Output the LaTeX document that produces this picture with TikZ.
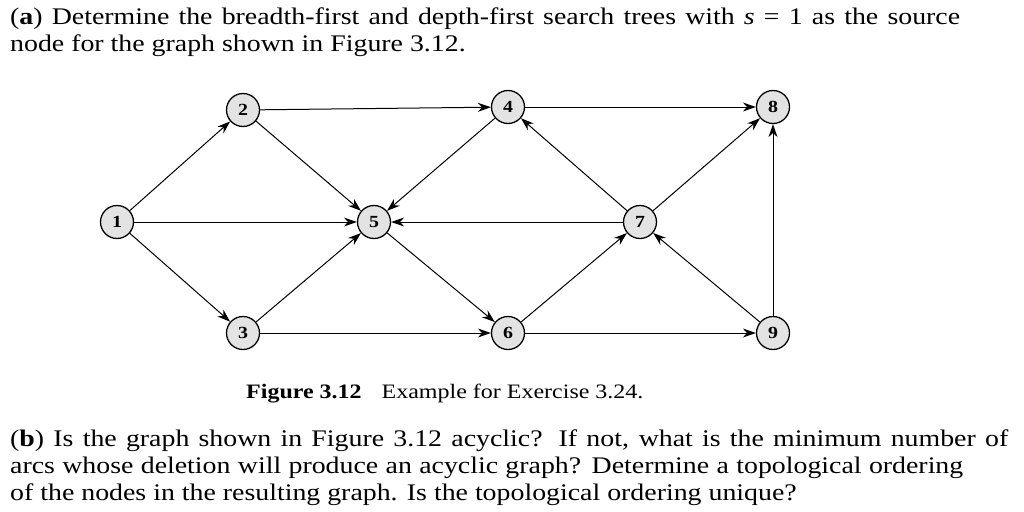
\documentclass[tikz,border=0pt]{standalone}
\usepackage{fontspec}
\setmainfont[FakeStretch=1.17]{Liberation Serif}
\usetikzlibrary{arrows.meta}
\begin{document}
\begin{tikzpicture}[x=1pt,y=-1pt,
  vtx/.style={circle,draw,line width=1.3pt,fill=gray!22,minimum size=33pt,inner sep=0pt,font=\fontsize{17}{17}\selectfont\bfseries},
  arc/.style={line width=1pt,-{Stealth[length=13pt,width=9pt]}},
  txt/.style={anchor=base west,inner sep=0pt,font=\fontsize{23.8}{27}\selectfont}]
\useasboundingbox (0,0) rectangle (1024,511);
\node[txt] (t1) at (10,25) {\hbox to 950pt{(\textbf{a}) Determine the breadth-first and depth-first search trees with \textit{s} = 1 as the source}};
\node[txt] (t2) at (10,52) {node for the graph shown in Figure 3.12.};
\node[vtx] (n1) at (117,222) {1};
\node[vtx] (n2) at (243,110) {2};
\node[vtx] (n3) at (243,333) {3};
\node[vtx] (n4) at (508,107) {4};
\node[vtx] (n5) at (374,222) {5};
\node[vtx] (n6) at (508,333) {6};
\node[vtx] (n7) at (640,222) {7};
\node[vtx] (n8) at (773,107) {8};
\node[vtx] (n9) at (773,333) {9};
\draw[arc] (n1)--(n2); \draw[arc] (n1)--(n5); \draw[arc] (n1)--(n3);
\draw[arc] (n2)--(n4); \draw[arc] (n2)--(n5);
\draw[arc] (n3)--(n5); \draw[arc] (n3)--(n6);
\draw[arc] (n4)--(n8); \draw[arc] (n4)--(n5);
\draw[arc] (n5)--(n6); \draw[arc] (n6)--(n7); \draw[arc] (n6)--(n9);
\draw[arc] (n7)--(n4); \draw[arc] (n7)--(n5); \draw[arc] (n7)--(n8);
\draw[arc] (n9)--(n7); \draw[arc] (n9)--(n8);
\node[txt,font=\fontsize{20.5}{22}\selectfont] (cap) at (246,398) {\textbf{Figure 3.12}\hspace{20pt}Example for Exercise 3.24.};
\node[txt] (b1) at (10,446) {\hbox to 998pt{(\textbf{b}) Is the graph shown in Figure 3.12 acyclic? If not, what is the minimum number of}};
\node[txt] (b2) at (10,473) {\hbox to 953pt{arcs whose deletion will produce an acyclic graph? Determine a topological ordering}};
\node[txt] (b3) at (10,500) {of the nodes in the resulting graph. Is the topological ordering unique?};
\end{tikzpicture}
\end{document}
